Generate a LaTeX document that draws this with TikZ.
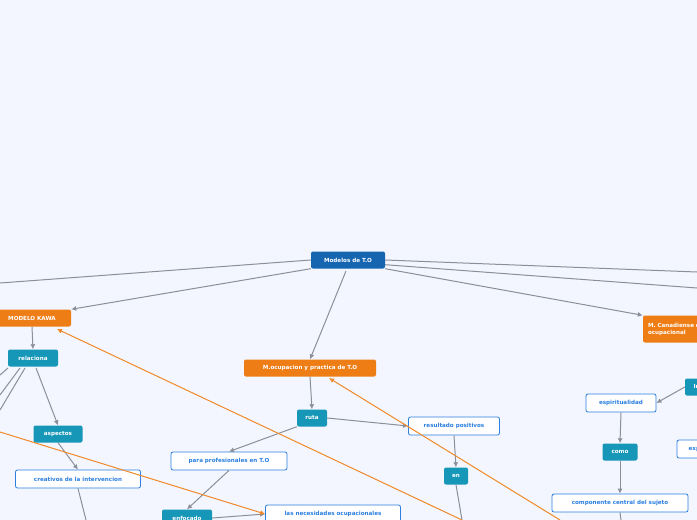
\documentclass[tikz,border=0pt]{standalone}
\usepackage{fontspec}
\setmainfont{DejaVu Sans}
\usetikzlibrary{arrows.meta}
\definecolor{bg}{HTML}{F3F6FE}
\definecolor{dblue}{HTML}{1565B0}
\definecolor{org}{HTML}{EE7D16}
\definecolor{teal}{HTML}{1797B8}
\definecolor{lblue}{HTML}{2B7FE0}
\definecolor{gline}{HTML}{8A8F99}
\definecolor{oline}{HTML}{F0892A}
\tikzset{
 base/.style={rounded corners=2pt,font=\fontsize{5.6}{7}\selectfont\bfseries,inner sep=0pt,minimum height=17pt,align=center},
 root/.style={base,fill=dblue,text=white},
 main/.style={base,fill=org,text=white},
 lab/.style={base,fill=teal,text=white},
 leaf/.style={base,fill=white,draw=lblue,line width=0.8pt,text=lblue,minimum height=18pt},
 g/.style={draw=gline,line width=1pt,-{Latex[length=5pt,width=5pt]}},
 gl/.style={draw=gline,line width=1pt},
 o/.style={draw=oline,line width=1pt,-{Latex[length=5pt,width=5pt]}},
}
\begin{document}
\begin{tikzpicture}[x=1pt,y=-1pt]
\fill[bg] (0,0) rectangle (697,520);
\useasboundingbox (0,0) rectangle (697,520);
\node[root,minimum width=74pt] (mod) at (348,260) {Modelos de T.O};
\node[main,minimum width=78pt] (kawa) at (32,318) {MODELO KAWA};
\node[lab,minimum width=50pt] (rel) at (33,358) {relaciona};
\node[lab,minimum width=49pt] (asp) at (58,434) {aspectos};
\node[leaf,minimum width=125pt] (cre) at (78,479) {creativos de la intervencion};
\node[main,minimum width=132pt] (moc) at (310,368) {M.ocupacion y practica de T.O};
\node[lab,minimum width=30pt] (ruta) at (312,418) {ruta};
\node[leaf,minimum width=116pt] (para) at (229,461) {para profesionales en T.O};
\node[lab,minimum width=50pt] (enf) at (187,518) {enfocado};
\node[leaf,minimum width=135pt] (nec) at (333,514) {las necesidades ocupacionales};
\node[leaf,minimum width=91pt] (res) at (454,426) {resultado positivos};
\node[lab,minimum width=24pt] (en) at (456,476) {en};
\node[main,minimum width=110pt,minimum height=27pt,text width=100pt,align=left] (can) at (698,329) {M. Canadiense del\\ocupacional};
\node[lab,minimum width=40pt] (inc) at (705,387) {Incluye};
\node[leaf,minimum width=70pt] (esp) at (621,403) {espiritualidad};
\node[lab,minimum width=35pt] (como) at (620,452) {como};
\node[leaf,minimum width=60pt] (exp) at (707,449) {experiencia};
\node[leaf,minimum width=136pt] (comp) at (620,503) {componente central del sujeto};
\coordinate (l1) at (0,283);
\coordinate (r1) at (697,272);
\coordinate (r2) at (697,288);
\coordinate (rl1) at (0,375);
\coordinate (rl2) at (0,395);
\coordinate (rl3) at (0,410);
\coordinate (cd) at (86,520);
\coordinate (ed) at (462,520);
\coordinate (cod) at (621,520);
\coordinate (oa) at (462,520);
\coordinate (ob) at (560,520);
\coordinate (oc) at (0,432);
\coordinate (kt) at (57,329);
\draw[gl] (mod.west) -- (l1);
\draw[g] (mod.south west) -- (kawa.north east);
\draw[g] (346,271) -- (moc.north);
\draw[g] (mod.south east) -- (can.north west);
\draw[gl] (mod.east) -- (r1);
\draw[gl] (mod.south east) ++(0,-4) -- (r2);
\draw[g] (kawa.south) -- (rel.north);
\draw[gl] (8,368) -- (rl1);
\draw[gl] (20,368) -- (rl2);
\draw[gl] (25,368) -- (rl3);
\draw[g] (36,368) -- (asp.north);
\draw[g] (asp.south) -- (cre.north);
\draw[gl] (cre.south) -- (cd);
\draw[g] (moc.south) -- (ruta.north);
\draw[g] (ruta.south west) -- (para.north);
\draw[g] (ruta.east) -- (res.west);
\draw[g] (para.south) -- (enf.north);
\draw[g] (enf.east) -- (nec.west);
\draw[g] (res.south) -- (en.north);
\draw[gl] (en.south) -- (ed);
\draw[g] (inc.west) -- (esp.east);
\draw[g] (esp.south) -- (como.north);
\draw[g] (como.south) -- (comp.north);
\draw[gl] (comp.south) -- (cod);
\draw[o] (oa) -- (kt);
\draw[o] (ob) -- (329,378);
\draw[o] (oc) -- (nec.west);
\end{tikzpicture}
\end{document}
